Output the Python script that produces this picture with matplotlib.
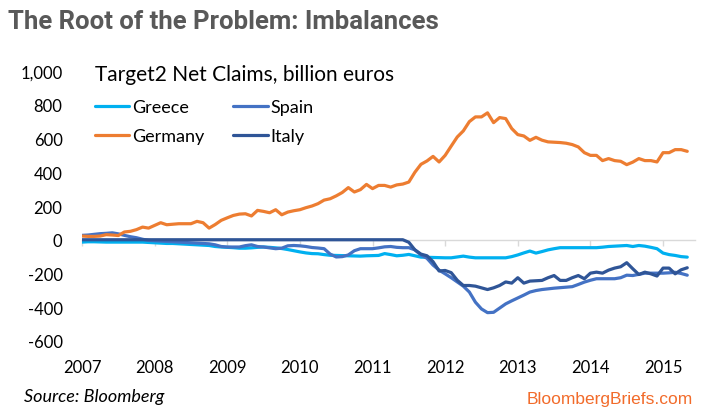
import numpy as np
import matplotlib
matplotlib.use("Agg")
import matplotlib.pyplot as plt
from matplotlib import font_manager

# Target2 net claims, billion euros, monthly from Jan 2007
start_year = 2007
germany = [22, 20, 20, 22, 30, 28, 25, 46, 50, 60, 75, 69, 85, 101, 89, 92, 95, 95, 95, 109,
           101, 69, 90, 115, 130, 144, 152, 154, 141, 174, 168, 160, 178, 148, 164, 172, 178, 190,
           200, 214, 235, 243, 260, 280, 309, 283, 297, 328, 303, 322, 322, 312, 325, 330, 342,
           400, 447, 467, 494, 461, 500, 555, 609, 645, 700, 728, 728, 752, 694, 724, 718, 659,
           623, 615, 589, 607, 590, 580, 578, 576, 572, 564, 550, 516, 500, 500, 469, 481, 469,
           465, 445, 460, 481, 469, 469, 461, 516, 516, 534, 534, 524]
greece = [-14, -12, -12, -13, -14, -14, -14, -14, -14, -14, -14, -16, -18, -20, -22, -22, -24,
          -26, -28, -30, -32, -34, -40, -43, -45, -47, -50, -50, -48, -45, -43, -45, -48, -52,
          -58, -65, -72, -78, -82, -83, -88, -92, -93, -94, -95, -96, -97, -95, -94, -93, -82,
          -88, -95, -92, -87, -95, -103, -104, -105, -106, -107, -107, -102, -97, -103, -107,
          -107, -107, -107, -107, -107, -100, -90, -78, -67, -79, -70, -60, -53, -47, -47, -47,
          -47, -47, -47, -47, -44, -40, -38, -36, -34, -40, -34, -38, -45, -53, -79, -88, -93,
          -100, -103]
spain = [26, 28, 32, 36, 38, 41, 35, 26, 18, 12, 3, -4, -6, -8, -10, -12, -14, -16, -18, -20,
         -22, -24, -30, -40, -43, -43, -43, -35, -30, -40, -43, -48, -53, -50, -36, -34, -36,
         -40, -46, -49, -53, -85, -102, -100, -90, -65, -53, -53, -53, -48, -42, -40, -45, -47,
         -47, -60, -90, -110, -150, -180, -202, -225, -250, -275, -310, -370, -410, -432, -430,
         -405, -380, -362, -345, -328, -310, -301, -295, -291, -287, -284, -281, -278, -265,
         -251, -240, -231, -231, -231, -231, -225, -210, -212, -205, -198, -198, -198, -198,
         -196, -193, -200, -210]
italy = [0] * 54 + [-15, -60, -85, -95, -130, -185, -182, -195, -240, -271, -271, -275, -285,
                    -295, -285, -271, -250, -257, -225, -257, -245, -243, -241, -225, -212, -241,
                    -241, -225, -212, -231, -198, -192, -198, -180, -168, -160, -136, -172, -206,
                    -192, -202, -215, -168, -168, -202, -178, -166]

years = list(range(2007, 2016))
yticks = [-600, -400, -200, 0, 200, 400, 600, 800, 1000]

x = start_year + np.arange(len(germany)) / 12.0

installed = {f.name for f in font_manager.fontManager.ttflist}
title_font = "Liberation Sans Narrow" if "Liberation Sans Narrow" in installed else "Roboto"

fig = plt.figure(figsize=(7.16, 4.14), dpi=100)
ax = fig.add_axes([82 / 716, 1 - 342 / 414, 613 / 716, 270 / 414])

lw = 2.3
l_gr, = ax.plot(x, greece, color="#00B0F0", lw=lw, label="Greece", solid_capstyle="round")
l_sp, = ax.plot(x, spain, color="#4472C4", lw=lw, label="Spain", solid_capstyle="round")
l_de, = ax.plot(x, germany, color="#ED7D31", lw=lw, label="Germany", solid_capstyle="round")
l_it, = ax.plot(x, italy, color="#2F5597", lw=lw, label="Italy", solid_capstyle="round")

ax.set_xlim(2007, 2015.44)
ax.set_ylim(-600, 1000)

for s in ["top", "right", "left"]:
    ax.spines[s].set_visible(False)
ax.spines["bottom"].set_position(("data", 0))
ax.spines["bottom"].set_color("#D9D9D9")
ax.spines["bottom"].set_linewidth(1.0)
ax.spines["bottom"].set_zorder(0.5)

ax.set_xticks(years)
ax.set_xticklabels([str(y) for y in years])
ax.tick_params(axis="x", direction="out", length=4, width=1, color="#D9D9D9",
               pad=82, labelsize=12, labelcolor="#000000")
ax.set_yticks(yticks)
ax.set_yticklabels([f"{v:,}" for v in yticks])
ax.tick_params(axis="y", length=0, pad=14, labelsize=12, labelcolor="#000000")
for lab in ax.get_xticklabels() + ax.get_yticklabels():
    lab.set_family("Lato")

leg = ax.legend(handles=[l_gr, l_de, l_sp, l_it], ncol=2, loc="upper left",
                bbox_to_anchor=(-0.005, 0.955), frameon=False, handlelength=1.9,
                handletextpad=0.15, columnspacing=1.6, labelspacing=0.72,
                prop={"family": "Lato", "size": 13})

fig.text(8 / 716, 1 - 22 / 414, "The Root of the Problem: Imbalances", fontsize=18.5,
         fontweight="bold", color="#595959", family=title_font, va="center")
fig.text(95 / 716, 1 - 75 / 414, "Target2 Net Claims, billion euros", fontsize=15,
         family="Lato", va="center")
fig.text(24 / 716, 1 - 397 / 414, "Source: Bloomberg", fontsize=13, style="italic",
         family="Lato", va="center")
fig.text(693 / 716, 1 - 400 / 414, "BloombergBriefs.com", fontsize=12.5, color="#F26B2A",
         family="Liberation Sans", ha="right", va="center")

fig.savefig("out.png", dpi=100)
